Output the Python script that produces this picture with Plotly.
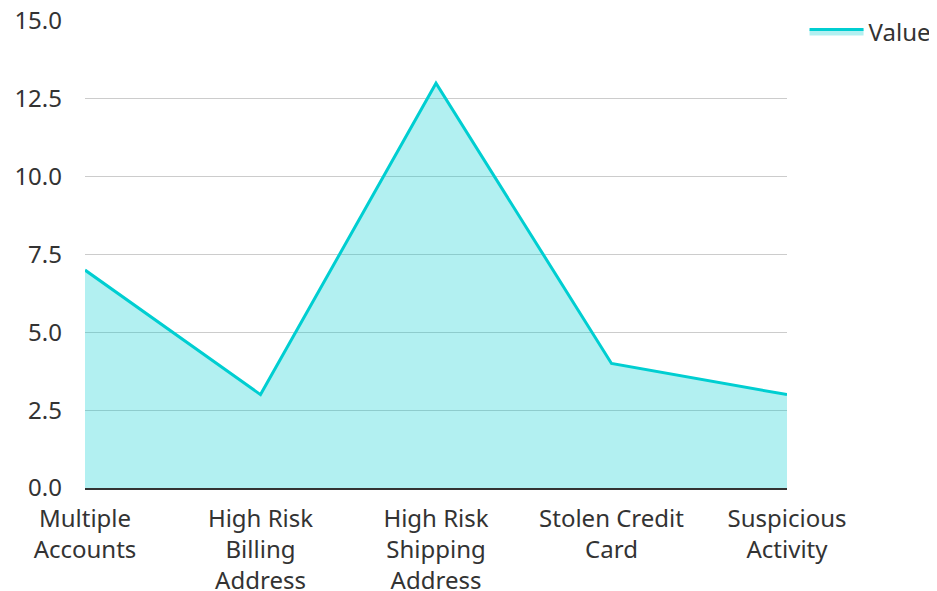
import plotly.graph_objects as go

categories = ["Multiple<br>Accounts", "High Risk<br>Billing<br>Address", "High Risk<br>Shipping<br>Address", "Stolen Credit<br>Card", "Suspicious<br>Activity"]
values = [7, 3, 13, 4, 3]
y_ticks = [0, 2.5, 5, 7.5, 10, 12.5, 15]

fig = go.Figure()
fig.add_trace(go.Scatter(
    x=list(range(len(categories))), y=values, mode="lines", name="Value",
    line=dict(color="#00CED1", width=3),
    fill="tozeroy", fillcolor="rgba(0,206,209,0.3)",
))
fig.update_layout(
    width=929, height=583,
    margin=dict(l=77, r=150, t=13, b=103, autoexpand=False),
    plot_bgcolor="white", paper_bgcolor="white",
    font=dict(family="Noto Sans", size=24, color="#333333"),
    showlegend=True,
    legend=dict(x=1.025, y=1.025, xanchor="left", yanchor="top", font=dict(size=24),
                itemwidth=54),
    xaxis=dict(
        tickmode="array", tickvals=list(range(len(categories))), ticktext=categories,
        range=[0, len(categories) - 1], showgrid=False, showline=True,
        linecolor="#333333", linewidth=2, zeroline=False, ticks="",
        automargin=False, ticklabelstandoff=8, ticklabeloverflow="allow",
    ),
    yaxis=dict(
        range=[0, 15], tickvals=y_ticks, tickformat=".1f",
        showgrid=True, gridcolor="#cccccc", gridwidth=1, zeroline=False,
        ticks="", ticklabelstandoff=22, automargin=False, ticklabeloverflow="allow",
    ),
)
fig.write_html("out.html")
